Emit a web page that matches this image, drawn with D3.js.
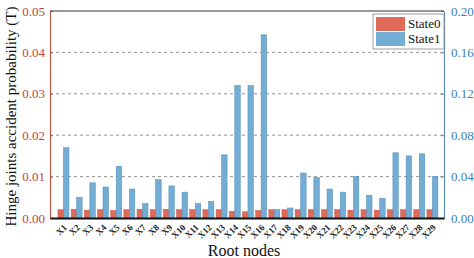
<!DOCTYPE html>
<html>
<head>
<meta charset="utf-8">
<script src="https://cdn.jsdelivr.net/npm/d3@7"></script>
<style>
  html, body { margin: 0; padding: 0; background: #fff; }
  svg { display: block; font-family: "Liberation Serif", "Times New Roman", serif; }
</style>
</head>
<body>
<div id="chart"></div>
<script>
// root nodes X1..X29
const nodes = ["X1","X2","X3","X4","X5","X6","X7","X8","X9","X10","X11","X12","X13","X14","X15",
  "X16","X17","X18","X19","X20","X21","X22","X23","X24","X25","X26","X27","X28","X29"];
// State0 -> left axis
const state0 = [0.0020,0.0021,0.0019,0.0020,0.0018,0.0020,0.0021,0.0020,0.0021,0.0020,0.0020,0.0020,0.0020,0.0016,0.0015,
  0.0018,0.0020,0.0020,0.0020,0.0020,0.0020,0.0020,0.0019,0.0020,0.0019,0.0020,0.0020,0.0020,0.0020];
// State1 -> right axis
const state1 = [0.068,0.020,0.034,0.030,0.050,0.028,0.014,0.037,0.031,0.025,0.014,0.016,0.061,0.128,0.128,
  0.177,0.008,0.0097,0.0435,0.039,0.028,0.025,0.040,0.022,0.019,0.063,0.060,0.062,0.040];
const leftTicks = [0, 0.01, 0.02, 0.03, 0.04, 0.05];
const rightTicks = [0, 0.04, 0.08, 0.12, 0.16, 0.20];
const seriesNames = ["State0", "State1"];

const W = 474, H = 258;
const pd = { top: 11, right: 30, bottom: 40, left: 50 };
const pw = W - pd.left - pd.right, ph = H - pd.top - pd.bottom;
const red = "#df6a5a", blue = "#74add4";

const svg = d3.select("#chart").append("svg").attr("width", W).attr("height", H);
const g = svg.append("g").attr("transform", `translate(${pd.left},${pd.top})`);

const x = d3.scaleBand().domain(nodes).range([0, pw]).paddingInner(0).paddingOuter(0.45).align(0.58);
const xs = d3.scaleBand().domain(seriesNames).range([0, x.bandwidth()]).paddingInner(0).paddingOuter(0.2);
const yL = d3.scaleLinear().domain([0, 0.05]).range([ph, 0]);
const yR = d3.scaleLinear().domain([0, 0.20]).range([ph, 0]);

// dashed grid
g.append("g").selectAll("line").data(leftTicks.slice(1, -1)).join("line")
  .attr("x1", 0).attr("x2", pw).attr("y1", d => yL(d)).attr("y2", d => yL(d))
  .attr("stroke", "#777").attr("stroke-width", 0.8).attr("stroke-dasharray", "3,3");

// bars
g.append("g").selectAll("rect").data(nodes).join("rect")
  .attr("x", d => x(d) + xs("State0")).attr("width", xs.bandwidth())
  .attr("y", (d, i) => yL(state0[i])).attr("height", (d, i) => ph - yL(state0[i]))
  .attr("fill", red).attr("stroke", "#c4503f").attr("stroke-width", 0.5);
g.append("g").selectAll("rect").data(nodes).join("rect")
  .attr("x", d => x(d) + xs("State1")).attr("width", xs.bandwidth())
  .attr("y", (d, i) => yR(state1[i])).attr("height", (d, i) => ph - yR(state1[i]))
  .attr("fill", blue).attr("stroke", "#4f8cbc").attr("stroke-width", 0.5);

// left axis
const gl = g.append("g").call(d3.axisLeft(yL).tickValues(leftTicks).tickFormat(d3.format(".2f")).tickSizeInner(-3).tickSizeOuter(0));
gl.attr("font-family", null);
gl.select(".domain").attr("stroke", "#b5584a").attr("stroke-width", 1.2);
gl.selectAll(".tick line").attr("stroke", "#b5584a");
gl.selectAll(".tick text").attr("fill", "#c0453a").attr("font-size", 13).attr("x", -5);

// right axis
const gr = g.append("g").attr("transform", `translate(${pw},0)`)
  .call(d3.axisRight(yR).tickValues(rightTicks).tickFormat(d3.format(".2f")).tickSizeInner(-3).tickSizeOuter(0));
gr.attr("font-family", null);
gr.select(".domain").attr("stroke", "#5f8db5").attr("stroke-width", 1.2);
gr.selectAll(".tick line").attr("stroke", "#5f8db5");
gr.selectAll(".tick text").attr("fill", "#3d7fb8").attr("font-size", 13).attr("x", 7);

// top border
g.append("line").attr("x1", 0).attr("x2", pw).attr("y1", 0).attr("y2", 0).attr("stroke", "#333").attr("stroke-width", 1.2);

// bottom axis
const gb = g.append("g").attr("transform", `translate(0,${ph})`).call(d3.axisBottom(x).tickSize(0));
gb.attr("font-family", null);
gb.select(".domain").attr("stroke", "#111").attr("stroke-width", 2);
gb.selectAll(".tick text")
  .attr("font-size", 9).attr("font-weight", "bold").attr("fill", "#222")
  .attr("text-anchor", "end").attr("dy", 0).attr("y", 0)
  .attr("transform", "translate(4,10) rotate(-45)");

// axis titles
svg.append("text").attr("x", pd.left + pw / 2 - 3).attr("y", 256).attr("text-anchor", "middle")
  .attr("font-size", 16).attr("fill", "#111").text("Root nodes");
svg.append("text").attr("transform", `translate(16,${pd.top + ph / 2 + 2}) rotate(-90)`).attr("text-anchor", "middle")
  .attr("font-size", 15).attr("fill", "#111").text("Hinge joints accident probability (T)");

// legend
const lg = g.append("g").attr("transform", `translate(${pw - 71},3)`);
lg.append("rect").attr("width", 71).attr("height", 35).attr("fill", "#fff").attr("stroke", "#888").attr("stroke-width", 0.8);
seriesNames.forEach((s, i) => {
  lg.append("rect").attr("x", 3).attr("y", 3 + i * 15).attr("width", 29).attr("height", 14)
    .attr("fill", i ? blue : red);
  lg.append("text").attr("x", 35).attr("y", 14 + i * 15).attr("font-size", 13).attr("fill", "#111").text(s);
});
</script>
</body>
</html>
